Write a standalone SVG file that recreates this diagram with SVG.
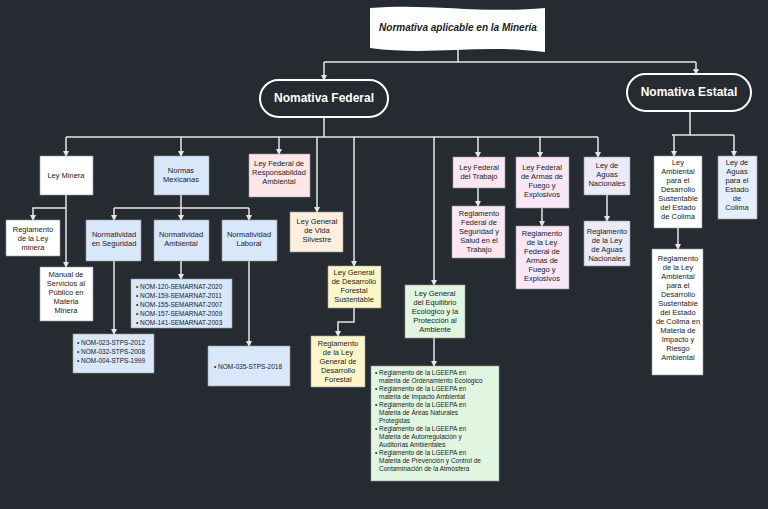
<svg xmlns="http://www.w3.org/2000/svg" width="768" height="509" viewBox="0 0 768 509">
<style>
text{font-family:"Liberation Sans",Arial,sans-serif;font-size:7.5px;fill:#222;text-anchor:middle}
.b{stroke:#999;stroke-width:0.6}
.c{fill:none;stroke:#e6e6e6;stroke-width:1.5;marker-end:url(#a)}
.l{fill:none;stroke:#e6e6e6;stroke-width:1.5}
.li text{text-anchor:start;font-size:6.5px}
</style>
<defs><marker id="a" viewBox="0 0 6 6" refX="5" refY="3" markerWidth="4" markerHeight="4" orient="auto"><path d="M0,0L6,3L0,6z" fill="#e6e6e6"/></marker></defs>
<rect width="768" height="509" fill="#262a31"/>
<g id="connectors">
<path class="l" d="M458,50V62H324M458,62H696"/>
<path class="c" d="M324,62V80"/><path class="c" d="M696,62V74"/>
<path class="l" d="M324,117V137M66,137H598"/>
<path class="c" d="M66,137V156"/><path class="c" d="M181,137V156"/><path class="c" d="M279,137V154"/><path class="c" d="M317,137V212"/><path class="c" d="M354,137V266"/><path class="c" d="M434,137V285"/><path class="c" d="M478,137V157"/><path class="c" d="M540,137V157"/><path class="c" d="M598,137V157"/>
<path class="l" d="M690,111V135M672,135H734"/><path class="c" d="M674,135V156"/><path class="c" d="M734,135V156"/>
<path class="c" d="M66,195V267"/><path class="c" d="M66,208H33V220"/>
<path class="l" d="M181,195V208M114,208H249"/><path class="c" d="M114,208V220"/><path class="c" d="M181,208V220"/><path class="c" d="M249,208V220"/>
<path class="c" d="M114,261V334"/><path class="c" d="M181,261V279"/><path class="c" d="M249,261V346"/>
<path class="c" d="M354,308V322H338V336"/>
<path class="c" d="M434,338V366"/>
<path class="c" d="M478,188V206"/><path class="c" d="M542,208V226"/><path class="c" d="M607,195V221"/><path class="c" d="M678,228V249"/>
</g>
<g id="title"><path d="M370,8C430,3 480,14 545,8V52C480,44 430,56 370,48Z" fill="#fff"/><text x="458" y="31" style="font-size:10px;font-weight:bold;font-style:italic">Normativa aplicable en la Minería</text></g>
<g id="federal"><rect x="260" y="80" width="128" height="37" rx="18.5" fill="#262a31" stroke="#fff" stroke-width="2"/><text x="324" y="102" style="font-size:12px;font-weight:bold;fill:#fff">Nomativa Federal</text></g>
<g id="estatal"><rect x="627" y="74" width="124" height="37" rx="18.5" fill="#262a31" stroke="#fff" stroke-width="2"/><text x="689" y="96" style="font-size:12px;font-weight:bold;fill:#fff">Nomativa Estatal</text></g>
<g id="leyminera"><rect class="b" x="40" y="156" width="53" height="39" fill="#fff"/><text x="66" y="178">Ley Minera</text></g>
<g id="normas"><rect class="b" x="154" y="156" width="55" height="39" fill="#d9e7fb"/><text x="181" y="173">Normas</text><text x="181" y="182">Mexicanas</text></g>
<g id="lfra"><rect class="b" x="249" y="154" width="61" height="43" fill="#fbe7e7"/><text x="279" y="166">Ley Federal de</text><text x="279" y="175">Responsablidad</text><text x="279" y="184">Ambiental</text></g>
<g id="vida"><rect class="b" x="290" y="212" width="53" height="40" fill="#fdefdc"/><text x="317" y="224">Ley General</text><text x="317" y="233">de Vida</text><text x="317" y="242">Silvestre</text></g>
<g id="forestal"><rect class="b" x="328" y="266" width="53" height="42" fill="#fcf7ca"/><text x="354" y="275">Ley General</text><text x="354" y="284">de Desarrollo</text><text x="354" y="293">Forestal</text><text x="354" y="302">Sustentable</text></g>
<g id="regforestal"><rect class="b" x="311" y="336" width="54" height="51" fill="#fcf7ca"/><text x="338" y="346">Reglamento</text><text x="338" y="355">de la Ley</text><text x="338" y="364">General de</text><text x="338" y="373">Desarrollo</text><text x="338" y="382">Forestal</text></g>
<g id="lgeepa"><rect class="b" x="405" y="285" width="60" height="53" fill="#e1f6e0"/><text x="435" y="296">Ley General</text><text x="435" y="305">del Equilibrio</text><text x="435" y="314">Ecológico y la</text><text x="435" y="323">Protección al</text><text x="435" y="332">Ambiente</text></g>
<g id="reglgeepa" class="li"><rect class="b" x="371" y="366" width="128" height="115" fill="#e1f6e0"/>
<text x="375" y="375">• Reglamento de la LGEEPA en</text><text x="379" y="383">materia de Ordenamiento Ecológico</text>
<text x="375" y="391">• Reglamento de la LGEEPA en</text><text x="379" y="399">materia de Impacto Ambiental</text>
<text x="375" y="407">• Reglamento de la LGEEPA en</text><text x="379" y="415">Materia de Áreas Naturales</text><text x="379" y="423">Protegidas</text>
<text x="375" y="431">• Reglamento de la LGEEPA en</text><text x="379" y="439">Materia de Autorregulación y</text><text x="379" y="447">Auditorías Ambientales</text>
<text x="375" y="455">• Reglamento de la LGEEPA en</text><text x="379" y="463">Materia de Prevención y Control de</text><text x="379" y="471">Contaminación de la Atmósfera</text></g>
<g id="trabajo"><rect class="b" x="453" y="157" width="52" height="31" fill="#fbe7f2"/><text x="479" y="170">Ley Federal</text><text x="479" y="179">del Trabajo</text></g>
<g id="regtrabajo"><rect class="b" x="452" y="206" width="53" height="52" fill="#fbe7f2"/><text x="479" y="216">Reglamento</text><text x="479" y="225">Federal de</text><text x="479" y="234">Seguridad y</text><text x="479" y="243">Salud en el</text><text x="479" y="252">Trabajo</text></g>
<g id="armas"><rect class="b" x="516" y="157" width="53" height="51" fill="#f7e7f7"/><text x="542" y="170">Ley Federal</text><text x="542" y="179">de Armas de</text><text x="542" y="188">Fuego y</text><text x="542" y="197">Explosivos</text></g>
<g id="regarmas"><rect class="b" x="516" y="226" width="53" height="63" fill="#f7e7f7"/><text x="542" y="236">Reglamento</text><text x="542" y="245">de la Ley</text><text x="542" y="254">Federal de</text><text x="542" y="263">Armas de</text><text x="542" y="272">Fuego y</text><text x="542" y="281">Explosivos</text></g>
<g id="aguas"><rect class="b" x="584" y="157" width="46" height="38" fill="#ebe9fa"/><text x="607" y="168">Ley de</text><text x="607" y="177">Aguas</text><text x="607" y="186">Nacionales</text></g>
<g id="regaguas"><rect class="b" x="584" y="221" width="46" height="45" fill="#ebe9fa"/><text x="607" y="234">Reglamento</text><text x="607" y="243">de la Ley</text><text x="607" y="252">de Aguas</text><text x="607" y="261">Nacionales</text></g>
<g id="colima"><rect class="b" x="654" y="156" width="48" height="72" fill="#fff"/><text x="678" y="165">Ley</text><text x="678" y="174">Ambiental</text><text x="678" y="183">para el</text><text x="678" y="192">Desarrollo</text><text x="678" y="201">Sustentable</text><text x="678" y="210">del Estado</text><text x="678" y="219">de Colima</text></g>
<g id="aguascolima"><rect class="b" x="718" y="156" width="39" height="63" fill="#e5effc"/><text x="737" y="165">Ley de</text><text x="737" y="174">Aguas</text><text x="737" y="183">para el</text><text x="737" y="192">Estado</text><text x="737" y="201">de</text><text x="737" y="210">Colima</text></g>
<g id="regcolima"><rect class="b" x="652" y="249" width="51" height="126" fill="#fff"/><text x="678" y="261">Reglamento</text><text x="678" y="270">de la Ley</text><text x="678" y="279">Ambiental</text><text x="678" y="288">para el</text><text x="678" y="297">Desarrollo</text><text x="678" y="306">Sustentable</text><text x="678" y="315">del Estado</text><text x="678" y="324">de Colima en</text><text x="678" y="333">Materia de</text><text x="678" y="342">Impacto y</text><text x="678" y="351">Riesgo</text><text x="678" y="360">Ambiental</text></g>
<g id="regminera"><rect class="b" x="6" y="220" width="54" height="36" fill="#fff"/><text x="33" y="232">Reglamento</text><text x="33" y="241">de la Ley</text><text x="33" y="250">minera</text></g>
<g id="manual"><rect class="b" x="40" y="267" width="53" height="54" fill="#fff"/><text x="66" y="277">Manual de</text><text x="66" y="286">Servicios al</text><text x="66" y="295">Público en</text><text x="66" y="304">Materia</text><text x="66" y="313">Minera</text></g>
<g id="nseg"><rect class="b" x="86" y="220" width="55" height="41" fill="#d9e7fb"/><text x="114" y="237">Normatividad</text><text x="114" y="246">en Seguridad</text></g>
<g id="namb"><rect class="b" x="154" y="220" width="55" height="41" fill="#d9e7fb"/><text x="181" y="237">Normatividad</text><text x="181" y="246">Ambiental</text></g>
<g id="nlab"><rect class="b" x="222" y="220" width="55" height="41" fill="#d9e7fb"/><text x="249" y="237">Normatividad</text><text x="249" y="246">Laboral</text></g>
<g id="nomsem" class="li"><rect class="b" x="131" y="279" width="101" height="49" fill="#d9e7fb"/><text x="136" y="289">• NOM-120-SEMARNAT-2020</text><text x="136" y="298">• NOM-159-SEMARNAT-2011</text><text x="136" y="307">• NOM-155-SEMARNAT-2007</text><text x="136" y="316">• NOM-157-SEMARNAT-2009</text><text x="136" y="325">• NOM-141-SEMARNAT-2003</text></g>
<g id="nomstps" class="li"><rect class="b" x="73" y="334" width="81" height="39" fill="#d9e7fb"/><text x="77" y="345">• NOM-023-STPS-2012</text><text x="77" y="354">• NOM-032-STPS-2008</text><text x="77" y="363">• NOM-004-STPS-1999</text></g>
<g id="nom035" class="li"><rect class="b" x="208" y="346" width="82" height="40" fill="#d9e7fb"/><text x="214" y="369">• NOM-035-STPS-2018</text></g>
</svg>
